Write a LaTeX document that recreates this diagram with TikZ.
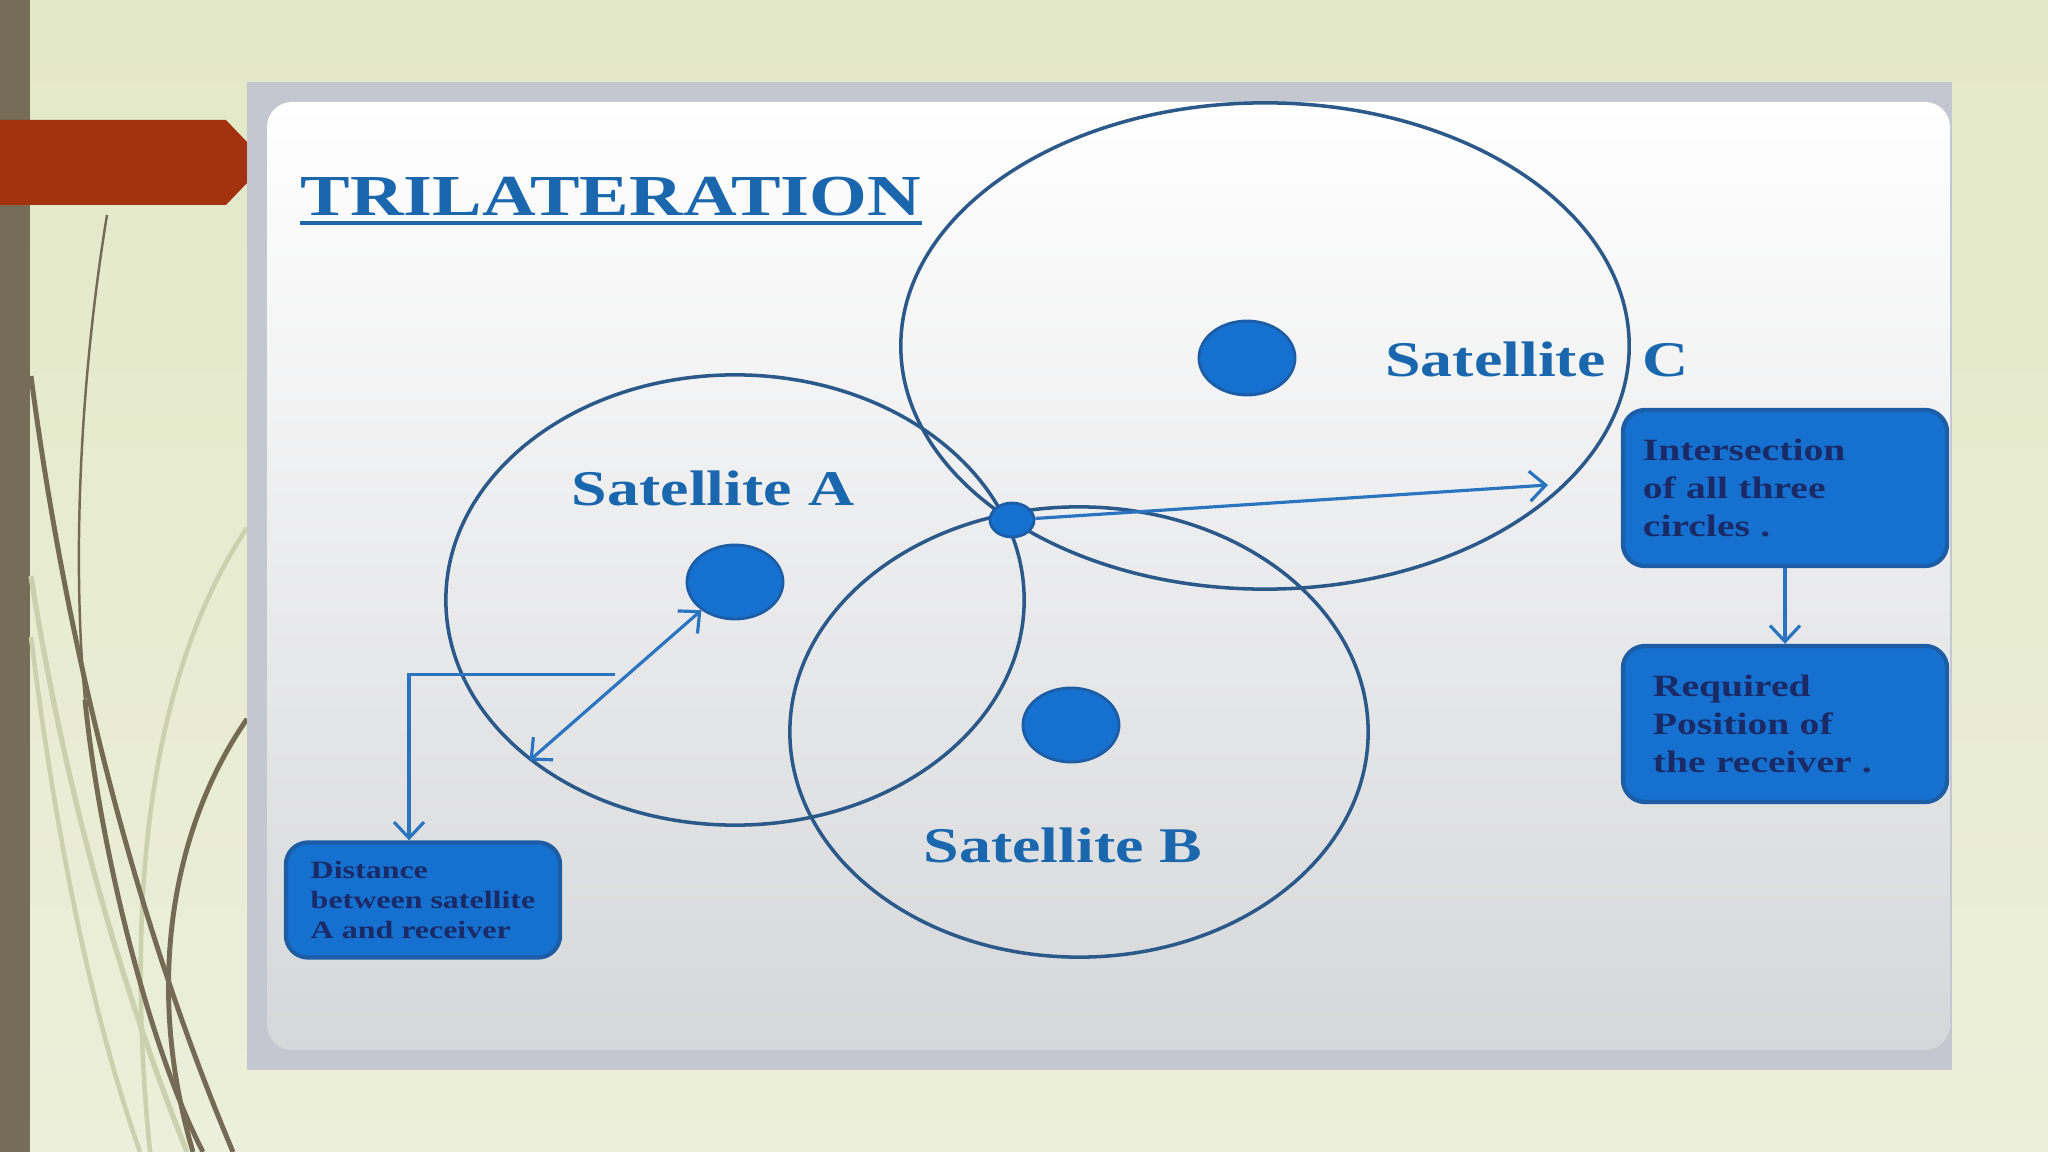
\documentclass[tikz,border=0pt]{standalone}
\usepackage{fontspec}
\setmainfont{Liberation Serif}[FakeStretch=1.28]
\usepackage{xcolor}
\usepackage{tikz}
\usetikzlibrary{shapes.geometric,arrows.meta,positioning}

\definecolor{slidebg}{HTML}{E3E8C8}
\definecolor{slidelight}{HTML}{ECEFD9}
\definecolor{barbrown}{HTML}{766C57}
\definecolor{bannerred}{HTML}{A3320F}
\definecolor{framegray}{HTML}{C4C6D0}
\definecolor{panelgray}{HTML}{D6D7DA}
\definecolor{titleblue}{HTML}{1B67AE}
\definecolor{orbitblue}{HTML}{2B5A8A}
\definecolor{linkblue}{HTML}{2A74C0}
\definecolor{boxblue}{HTML}{1570D0}
\definecolor{boxline}{HTML}{1D5DA5}
\definecolor{boxtext}{HTML}{1A2A66}
\definecolor{stemdark}{HTML}{756B55}
\definecolor{stempale}{HTML}{CBD1AF}

\begin{document}
\begin{tikzpicture}[x=0.01cm, y=-0.01cm, >={Straight Barb[length=1.6mm, width=3mm]},
    orbit/.style={ellipse, draw=orbitblue, line width=1pt, inner sep=0pt},
    sat/.style={ellipse, draw=boxline, fill=boxblue, line width=0.8pt, inner sep=0pt, minimum width=0.96cm, minimum height=0.74cm},
    satlabel/.style={text=titleblue, font=\bfseries\fontsize{14.2pt}{17pt}\selectfont, inner sep=0pt},
    infobox/.style={rectangle, rounded corners=0.22cm, draw=boxline, fill=boxblue, line width=1.2pt, text=boxtext, align=left, font=\bfseries\fontsize{8.8pt}{10.8pt}\selectfont},
    link/.style={draw=linkblue, line width=0.9pt},
    stem/.style={draw=stemdark, line width=1.4pt},
    palestem/.style={draw=stempale, line width=1.3pt}]
    % Slide
    \useasboundingbox (0,0) rectangle (2048,1152);
    \shade[top color=slidebg, bottom color=slidelight] (0,0) rectangle (2048,1152);
    \fill[barbrown] (0,0) rectangle (30,1152);

    % Stems
    \draw[palestem] (247,528) .. controls (165,650) and (120,850) .. (150,1152);
    \draw[palestem, line width=1.5pt] (31,576) .. controls (60,760) and (110,960) .. (187,1152);
    \draw[palestem] (31,637) .. controls (55,830) and (90,1010) .. (140,1152);
    \draw[stem, line width=0.7pt] (107,215) .. controls (80,380) and (72,560) .. (85,700);
    \draw[stem] (85,700) .. controls (100,850) and (150,1050) .. (203,1152);
    \draw[stem] (31,376) .. controls (55,560) and (110,860) .. (233,1152);
    \draw[stem] (247,719) .. controls (170,830) and (145,990) .. (193,1152);
    \fill[bannerred] (0,120) -- (226,120) -- (247,142) -- (247,183) -- (226,205) -- (0,205) -- cycle;

    % Frame
    \fill[framegray] (247,82) rectangle (1952,1070);
    \shade[top color=white, bottom color=panelgray, rounded corners=0.25cm] (267,102) rectangle (1950,1050);
    \node[anchor=base west, inner sep=0pt, text=titleblue, font=\bfseries\fontsize{16.5pt}{20pt}\selectfont] (title) at (300,216) {TRILATERATION};
    \draw[titleblue, line width=1.2pt] ([yshift=-0.06cm]title.south west) -- ([yshift=-0.06cm]title.south east);

    % Orbits
    \node[orbit, minimum width=7.28cm, minimum height=4.86cm] (orbC) at (1265,346) {};
    \node[orbit, minimum width=5.78cm, minimum height=4.5cm] (orbA) at (735,600) {};
    \node[orbit, minimum width=5.78cm, minimum height=4.5cm] (orbB) at (1079,732) {};

    % Satellites
    \node[sat] (satA) at (735,582) {};
    \node[sat] (satB) at (1071,725) {};
    \node[sat] (satC) at (1247,358) {};
    \node[sat, minimum width=0.44cm, minimum height=0.34cm] (fix) at (1012,520) {};
    \node[satlabel] (labA) at (713,488) {Satellite A};
    \node[satlabel] (labB) at (1063,845) {Satellite B};
    \node[satlabel] (labC) at (1537,359) {Satellite\hspace{0.37cm}C};

    % Boxes
    \node[infobox, minimum width=3.24cm, minimum height=1.56cm, text width=2.84cm, inner xsep=0.2cm] (inter) at (1785,488) {Intersection\\of all three\\circles .};
    \node[infobox, minimum width=3.24cm, minimum height=1.56cm, text width=2.64cm, inner xsep=0.3cm] (req) at (1785,724) {Required\\Position of\\the receiver .};
    \node[infobox, minimum width=2.74cm, minimum height=1.15cm, font=\bfseries\fontsize{7.1pt}{8.5pt}\selectfont] (dist) at (423,900) {Distance\\between satellite\\A and receiver};

    % Arrows
    \coordinate (aim) at (1548,485);
    \draw[link, <->] (satA.220) -- coordinate[pos=0.43] (pick) (orbA.218);
    \draw[link, ->] ([xshift=-0.12cm]pick) -| ([xshift=-0.14cm]dist.north);
    \draw[link, ->] (fix) -- (aim);
    \draw[link, ->] (inter) -- (req);
\end{tikzpicture}
\end{document}
